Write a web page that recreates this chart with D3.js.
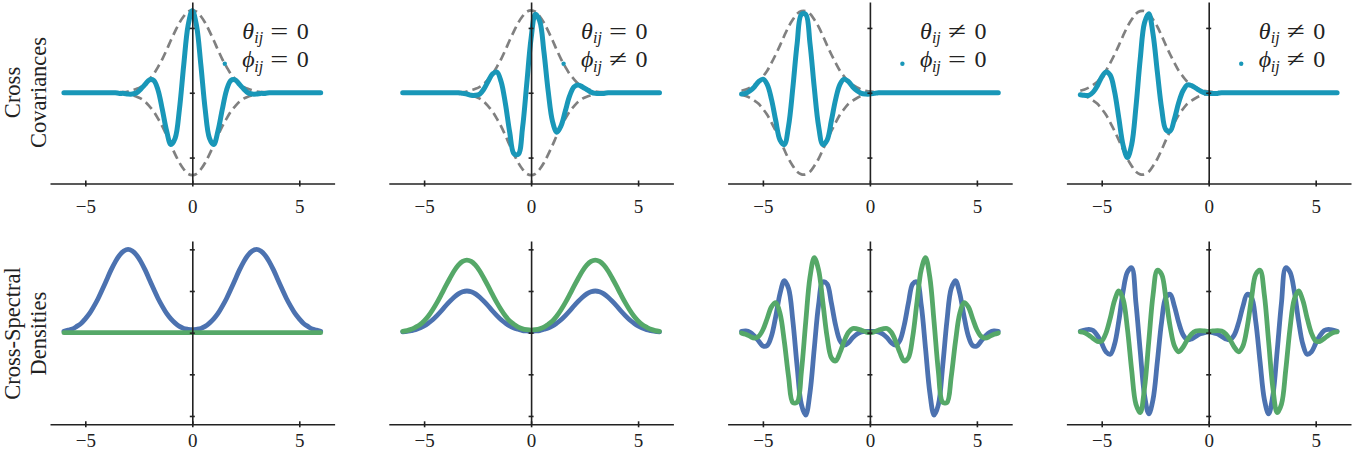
<!DOCTYPE html>
<html>
<head>
<meta charset="utf-8">
<script src="https://cdn.jsdelivr.net/npm/d3@7"></script>
<style>
  html, body { margin: 0; padding: 0; background: #fff; }
  svg { display: block; }
  text { font-family: "Liberation Serif", "DejaVu Serif", serif; fill: #222; }
</style>
</head>
<body>
<svg id="chart" width="1352" height="451"></svg>
<script>
// lag (top row) / frequency (bottom row) grid shared by every curve
const lag = [-6, -5.8, -5.6, -5.4, -5.2, -5, -4.8, -4.6, -4.4, -4.2,
  -4, -3.8, -3.6, -3.4, -3.2, -3, -2.8, -2.6, -2.4, -2.2,
  -2, -1.8, -1.6, -1.4, -1.2, -1, -0.8, -0.6, -0.4, -0.2,
  0,
  0.2, 0.4, 0.6, 0.8, 1, 1.2, 1.4, 1.6, 1.8, 2,
  2.2, 2.4, 2.6, 2.8, 3, 3.2, 3.4, 3.6, 3.8, 4,
  4.2, 4.4, 4.6, 4.8, 5, 5.2, 5.4, 5.6, 5.8, 6];

const xTicks = [-5, 0, 5];
const xTickLabels = ["\u22125", "0", "5"];
const covYTicks = [-1, 0, 1];
const csdYTicks = [-2, -1, 0, 1, 2];

const topLabel = ["Cross", "Covariances"];
const bottomLabel = ["Cross-Spectral", "Densities"];
const thetaSigns = ["=", "=", "\u2260", "\u2260"];
const phiSigns = ["=", "\u2260", "=", "\u2260"];

// envelopes of the covariances (drawn as +/- dashed)
const envCentered = [0, 0, 0, 0, 0, 0, 0, 0, 0, 0,
  0, 0, 0, 0.01, 0.01, 0.02, 0.04, 0.06, 0.09, 0.14,
  0.21, 0.29, 0.40, 0.52, 0.66, 0.81, 0.95, 1.08, 1.18, 1.25,
  1.27,
  1.25, 1.18, 1.08, 0.95, 0.81, 0.66, 0.52, 0.40, 0.29, 0.21,
  0.14, 0.09, 0.06, 0.04, 0.02, 0.01, 0.01, 0, 0, 0,
  0, 0, 0, 0, 0, 0, 0, 0, 0, 0];
const envShifted = [0.03, 0.05, 0.08, 0.12, 0.17, 0.25, 0.34, 0.46, 0.59, 0.73,
  0.88, 1.02, 1.13, 1.22, 1.26, 1.26, 1.22, 1.13, 1.02, 0.88,
  0.73, 0.59, 0.46, 0.34, 0.25, 0.17, 0.12, 0.08, 0.05, 0.03,
  0.02,
  0.01, 0.01, 0, 0, 0, 0, 0, 0, 0, 0,
  0, 0, 0, 0, 0, 0, 0, 0, 0, 0,
  0, 0, 0, 0, 0, 0, 0, 0, 0, 0];

// cross covariances
const cov1 = [0, 0, 0, 0, 0, 0, 0, 0, 0, 0,
  0, 0, 0, -0.01, -0.01, -0.02, -0.02, 0, 0.06, 0.13,
  0.20, 0.19, 0.04, -0.26, -0.59, -0.80, -0.70, -0.25, 0.43, 1.03,
  1.27,
  1.03, 0.43, -0.25, -0.70, -0.80, -0.59, -0.26, 0.04, 0.19, 0.20,
  0.13, 0.06, 0, -0.02, -0.02, -0.01, -0.01, 0, 0, 0,
  0, 0, 0, 0, 0, 0, 0, 0, 0, 0];
const cov2 = [0, 0, 0, 0, 0, 0, 0, 0, 0, 0,
  0, 0, 0, 0, -0.01, -0.02, -0.04, -0.04, -0.02, 0.06,
  0.18, 0.29, 0.32, 0.17, -0.17, -0.61, -0.94, -0.95, -0.54, 0.15,
  0.84,
  1.21, 1.11, 0.63, 0.02, -0.44, -0.61, -0.51, -0.28, -0.05, 0.09,
  0.12, 0.09, 0.05, 0.01, -0.01, -0.01, -0.01, 0, 0, 0,
  0, 0, 0, 0, 0, 0, 0, 0, 0, 0];
const cov3 = [-0.02, -0.01, 0.03, 0.09, 0.17, 0.21, 0.13, -0.10, -0.43, -0.73,
  -0.80, -0.51, 0.08, 0.76, 1.21, 1.21, 0.76, 0.08, -0.51, -0.80,
  -0.73, -0.43, -0.10, 0.13, 0.21, 0.17, 0.09, 0.03, -0.01, -0.02,
  -0.02,
  -0.01, 0, 0, 0, 0, 0, 0, 0, 0, 0,
  0, 0, 0, 0, 0, 0, 0, 0, 0, 0,
  0, 0, 0, 0, 0, 0, 0, 0, 0, 0];
const cov4 = [-0.03, -0.04, -0.04, 0.01, 0.11, 0.24, 0.32, 0.27, 0.02, -0.39,
  -0.81, -1.00, -0.80, -0.22, 0.52, 1.08, 1.22, 0.90, 0.32, -0.24,
  -0.57, -0.59, -0.40, -0.15, 0.03, 0.12, 0.11, 0.07, 0.03, 0,
  -0.01,
  -0.01, -0.01, 0, 0, 0, 0, 0, 0, 0, 0,
  0, 0, 0, 0, 0, 0, 0, 0, 0, 0,
  0, 0, 0, 0, 0, 0, 0, 0, 0, 0];

// cross-spectral densities (blue / green pair per panel)
const csd1Blue = [0.03, 0.06, 0.09, 0.15, 0.22, 0.33, 0.46, 0.63, 0.82, 1.04,
  1.27, 1.50, 1.70, 1.86, 1.96, 2.00, 1.96, 1.86, 1.70, 1.50,
  1.27, 1.04, 0.82, 0.63, 0.46, 0.33, 0.23, 0.15, 0.10, 0.08,
  0.07,
  0.08, 0.10, 0.15, 0.23, 0.33, 0.46, 0.63, 0.82, 1.04, 1.27,
  1.50, 1.70, 1.86, 1.96, 2.00, 1.96, 1.86, 1.70, 1.50, 1.27,
  1.04, 0.82, 0.63, 0.46, 0.33, 0.22, 0.15, 0.09, 0.06, 0.03];
const csd1Green = [0, 0, 0, 0, 0, 0, 0, 0, 0, 0,
  0, 0, 0, 0, 0, 0, 0, 0, 0, 0,
  0, 0, 0, 0, 0, 0, 0, 0, 0, 0,
  0,
  0, 0, 0, 0, 0, 0, 0, 0, 0, 0,
  0, 0, 0, 0, 0, 0, 0, 0, 0, 0,
  0, 0, 0, 0, 0, 0, 0, 0, 0, 0];
const csd2Blue = [0.02, 0.03, 0.05, 0.07, 0.11, 0.16, 0.23, 0.31, 0.41, 0.52,
  0.64, 0.75, 0.85, 0.93, 0.98, 1.00, 0.98, 0.93, 0.85, 0.75,
  0.64, 0.52, 0.41, 0.31, 0.23, 0.16, 0.11, 0.08, 0.05, 0.04,
  0.03,
  0.04, 0.05, 0.08, 0.11, 0.16, 0.23, 0.31, 0.41, 0.52, 0.64,
  0.75, 0.85, 0.93, 0.98, 1.00, 0.98, 0.93, 0.85, 0.75, 0.64,
  0.52, 0.41, 0.31, 0.23, 0.16, 0.11, 0.07, 0.05, 0.03, 0.02];
const csd2Green = [0.03, 0.05, 0.08, 0.13, 0.19, 0.28, 0.40, 0.55, 0.72, 0.91,
  1.11, 1.30, 1.48, 1.62, 1.71, 1.74, 1.71, 1.62, 1.48, 1.30,
  1.11, 0.91, 0.72, 0.55, 0.40, 0.28, 0.20, 0.13, 0.09, 0.07,
  0.06,
  0.07, 0.09, 0.13, 0.20, 0.28, 0.40, 0.55, 0.72, 0.91, 1.11,
  1.30, 1.48, 1.62, 1.71, 1.74, 1.71, 1.62, 1.48, 1.30, 1.11,
  0.91, 0.72, 0.55, 0.40, 0.28, 0.19, 0.13, 0.08, 0.05, 0.03];
const csd3Blue = [0.03, 0.04, 0.01, -0.08, -0.20, -0.32, -0.31, -0.08, 0.39, 0.94,
  1.25, 1.06, 0.28, -0.81, -1.73, -1.98, -1.44, -0.38, 0.66, 1.22,
  1.17, 0.71, 0.17, -0.19, -0.30, -0.24, -0.12, -0.03, 0.02, 0.03,
  0.03,
  0.03, 0.02, -0.03, -0.12, -0.24, -0.30, -0.19, 0.17, 0.71, 1.17,
  1.22, 0.66, -0.38, -1.44, -1.98, -1.73, -0.81, 0.28, 1.06, 1.25,
  0.94, 0.39, -0.08, -0.31, -0.32, -0.20, -0.08, 0.01, 0.04, 0.03];
const csd3Green = [-0.01, -0.04, -0.09, -0.13, -0.09, 0.07, 0.34, 0.62, 0.72, 0.46,
  -0.21, -1.06, -1.68, -1.67, -0.93, 0.25, 1.33, 1.80, 1.51, 0.73,
  -0.10, -0.60, -0.68, -0.48, -0.20, 0.01, 0.10, 0.09, 0.06, 0.02,
  0,
  0.02, 0.06, 0.09, 0.10, 0.01, -0.20, -0.48, -0.68, -0.60, -0.10,
  0.73, 1.51, 1.80, 1.33, 0.25, -0.93, -1.67, -1.68, -1.06, -0.21,
  0.46, 0.72, 0.62, 0.34, 0.07, -0.09, -0.13, -0.09, -0.04, -0.01];
const csd4Blue = [0.03, 0.06, 0.08, 0.05, -0.07, -0.26, -0.46, -0.52, -0.28, 0.28,
  0.99, 1.45, 1.56, 0.71, -0.44, -1.50, -1.95, -1.60, -0.70, 0.26,
  0.85, 0.92, 0.63, 0.24, -0.05, -0.17, -0.15, -0.09, -0.03, 0,
  0.02,
  0, -0.03, -0.09, -0.15, -0.17, -0.05, 0.24, 0.63, 0.92, 0.85,
  0.26, -0.70, -1.60, -1.95, -1.50, -0.44, 0.71, 1.56, 1.45, 0.99,
  0.28, -0.28, -0.52, -0.46, -0.26, -0.07, 0.05, 0.08, 0.06, 0.03];
const csd4Green = [0.02, 0, -0.06, -0.14, -0.21, -0.20, -0.01, 0.35, 0.77, 1.00,
  0.80, 0.10, -0.90, -1.72, -1.92, -1.33, -0.21, 0.91, 1.50, 1.40,
  0.82, 0.14, -0.32, -0.46, -0.35, -0.17, -0.03, 0.04, 0.05, 0.04,
  0.03,
  0.04, 0.05, 0.04, -0.03, -0.17, -0.35, -0.46, -0.32, 0.14, 0.82,
  1.40, 1.50, 0.91, -0.21, -1.33, -1.92, -1.72, -0.90, 0.10, 0.80,
  1.00, 0.77, 0.35, -0.01, -0.20, -0.21, -0.14, -0.06, 0, 0.02];

const panels = [
  { cov: cov1, env: envCentered, blue: csd1Blue, green: csd1Green },
  { cov: cov2, env: envCentered, blue: csd2Blue, green: csd2Green },
  { cov: cov3, env: envShifted, blue: csd3Blue, green: csd3Green },
  { cov: cov4, env: envShifted, blue: csd4Blue, green: csd4Green },
];

const teal = "#1997b8";
const blue = "#4c72b0";
const green = "#55a868";
const axisColor = "#222";

const svg = d3.select("#chart");
const panelW = 284.6;
const panelStep = 338.8;
const rows = [
  { top: 2, bottom: 183.5, domain: [-1.4, 1.4], ticks: covYTicks, labelY: 29.5 },
  { top: 241, bottom: 424.3, domain: [-2.2, 2.2], ticks: csdYTicks, labelY: 22.5 },
];

const curve = (x, y, sign) =>
  d3.line()
    .x((d, i) => x(lag[i]))
    .y((d) => y(sign * d))
    .curve(d3.curveCatmullRom.alpha(0.5));

const drawLine = (g, data, gen, color, width, dash) => {
  const p = g.append("path")
    .datum(data)
    .attr("d", gen)
    .attr("fill", "none")
    .attr("stroke", color)
    .attr("stroke-width", width)
    .attr("stroke-linejoin", "round")
    .attr("stroke-linecap", dash ? "butt" : "round");
  if (dash) p.attr("stroke-dasharray", dash);
};

const legendLine = (g, ax, baseline, symbol, sign) => {
  g.append("text").attr("x", ax - 0.5).attr("y", baseline)
    .attr("font-size", 24).attr("font-style", "italic").text(symbol);
  g.append("text").attr("x", ax + 11.5).attr("y", baseline + 4.5)
    .attr("font-size", 16).attr("font-style", "italic").text("ij");
  g.append("text").attr("x", ax + 27.5).attr("y", baseline)
    .attr("font-size", 24).attr("textLength", 18)
    .attr("lengthAdjust", "spacingAndGlyphs").text(sign);
  g.append("text").attr("x", ax + 54).attr("y", baseline)
    .attr("font-size", 24).text("0");
};

panels.forEach((p, col) => {
  const left = 50 + col * panelStep;
  const x = d3.scaleLinear().domain([-6.65, 6.65]).range([left, left + panelW]);

  rows.forEach((r, row) => {
    const y = d3.scaleLinear().domain(r.domain).range([r.bottom, r.top]);
    const g = svg.append("g");

    if (row === 0) {
      drawLine(g, p.env, curve(x, y, 1), "#808080", 2.7, "9,5");
      drawLine(g, p.env, curve(x, y, -1), "#808080", 2.7, "9,5");
      drawLine(g, p.cov, curve(x, y, 1), teal, 5);
    } else {
      drawLine(g, p.blue, curve(x, y, 1), blue, 4.8);
      drawLine(g, p.green, curve(x, y, 1), green, 4.8);
    }

    // x axis along the bottom of the panel
    const xAxis = g.append("g")
      .attr("transform", `translate(0,${r.bottom})`)
      .call(d3.axisBottom(x).tickValues(xTicks).tickSize(3).tickSizeOuter(0)
        .tickFormat((d, i) => xTickLabels[i]));
    xAxis.selectAll(".tick line").attr("y1", -3);
    xAxis.selectAll("text")
      .attr("y", r.labelY).attr("dy", 0)
      .attr("font-size", 19)
      .attr("font-family", "Liberation Serif, DejaVu Serif, serif")
      .attr("fill", axisColor);

    // y spine through zero
    const yAxis = g.append("g")
      .attr("transform", `translate(${x(0)},0)`)
      .call(d3.axisLeft(y).tickValues(r.ticks).tickSize(2.5).tickSizeOuter(0)
        .tickFormat(() => ""));
    yAxis.selectAll(".tick line").attr("x1", 2.5);

    g.selectAll(".domain, .tick line")
      .attr("stroke", axisColor)
      .attr("stroke-width", 1.6);

    if (row === 0) {
      const ax = x(0) + 50.5;
      legendLine(g, ax, 38.8, "\u03b8", thetaSigns[col]);
      legendLine(g, ax, 67.3, "\u03d5", phiSigns[col]);
      g.append("circle")
        .attr("cx", x(0) + 32.5).attr("cy", 63.8).attr("r", 2.2)
        .attr("fill", teal);
    }
  });
});

// row titles
const rowTitle = (lines, cy) => {
  lines.forEach((t, i) => {
    svg.append("text")
      .attr("transform", `translate(${20 + i * 25.5},${cy}) rotate(-90)`)
      .attr("text-anchor", "middle")
      .attr("font-size", 22.5)
      .text(t);
  });
};
rowTitle(topLabel, 92.5);
rowTitle(bottomLabel, 333.5);
</script>
</body>
</html>
